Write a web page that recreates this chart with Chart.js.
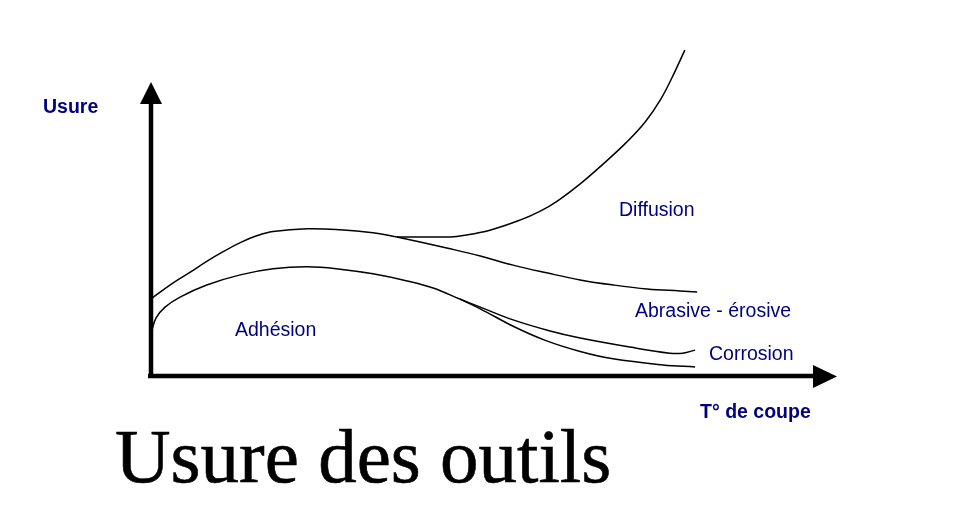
<!DOCTYPE html>
<html>
<head>
<meta charset="utf-8">
<title>Usure des outils</title>
<script src="https://cdn.jsdelivr.net/npm/chart.js@4.4.0/dist/chart.umd.min.js"></script>
<style>
  html, body { margin: 0; padding: 0; background: #fff; }
  #wrap { position: relative; width: 958px; height: 522px; }
  #titre {
    position: absolute; left: 115px; top: 418px;
    font: 77px/77px "Liberation Serif", "Times New Roman", serif;
    color: #000; white-space: nowrap;
    -webkit-text-stroke: 0.6px #000;
  }
</style>
</head>
<body>
<div id="wrap">
  <canvas id="myChart"></canvas>
  <div id="titre">Usure des outils</div>
</div>
<script>
const adhUpperX = [0, 3.1, 5.6, 8.0, 10.4, 12.9, 15.4, 17.7, 22.7, 27.5, 32.3, 35.8];
const adhUpperY = [23.2, 27.7, 30.9, 34.1, 37.0, 39.7, 41.8, 43.0, 43.8, 43.5, 42.6, 41.4];

const abrasiveX = [35.8, 39.2, 43.1, 48.0, 52.8, 57.7, 62.6, 67.4, 72.4, 77.2, 79.7];
const abrasiveY = [41.4, 39.9, 38.1, 35.7, 33.0, 30.7, 28.6, 27.1, 25.9, 25.3, 25.0];

const diffusionX = [35.8, 39.2, 43.6, 45.5, 49.4, 53.8, 56.7, 59.2, 62.6, 65.9, 69.4, 72.1, 74.3, 76.0, 77.9];
const diffusionY = [41.4, 41.4, 41.4, 41.8, 43.4, 46.4, 49.0, 52.0, 57.2, 63.0, 69.6, 75.6, 82.1, 88.7, 97.0];

const adhLowerX = [0, 0.6, 1.9, 4.1, 8.0, 12.9, 17.7, 22.7, 27.5, 32.3, 37.3, 41.1, 45.0];
const adhLowerY = [13.7, 17.3, 20.5, 23.5, 27.1, 30.1, 31.9, 32.5, 31.8, 30.4, 28.3, 26.2, 22.9];

const corrosionX = [45.0, 48.0, 52.8, 58.2, 62.6, 69.9, 75.7, 77.6, 79.4];
const corrosionY = [22.9, 20.5, 16.7, 13.4, 11.3, 8.6, 6.8, 6.8, 7.7];

const lowestX = [45.0, 48.0, 52.8, 57.5, 62.6, 67.4, 74.7, 79.4];
const lowestY = [22.9, 20.0, 14.8, 10.6, 7.3, 5.1, 3.3, 2.7];

function pts(xs, ys) {
    return xs.map((x, i) => ({x: x, y: ys[i]}));
}
function courbe(name, xs, ys) {
    return {
        label: name,
        data: pts(xs, ys),
        borderColor: '#000',
        borderWidth: 1.5,
        pointRadius: 0,
        tension: 0.4,
        fill: false,
        clip: false
    };
}

const navy = '#000080';

// axes fléchés + étiquettes
const decor = {
    id: 'decor',
    afterDatasetsDraw(chart) {
        const ctx = chart.ctx;
        const a = chart.chartArea;
        ctx.save();
        ctx.fillStyle = '#000';
        ctx.strokeStyle = '#000';
        ctx.lineWidth = 4.5;
        // axe vertical
        ctx.beginPath();
        ctx.moveTo(a.left - 1, a.bottom + 2);
        ctx.lineTo(a.left - 1, 100);
        ctx.stroke();
        ctx.beginPath();
        ctx.moveTo(a.left - 1, 82);
        ctx.lineTo(a.left - 12, 104);
        ctx.lineTo(a.left + 10, 104);
        ctx.closePath();
        ctx.fill();
        // axe horizontal
        ctx.beginPath();
        ctx.moveTo(a.left - 4, a.bottom);
        ctx.lineTo(a.right - 20, a.bottom);
        ctx.stroke();
        ctx.beginPath();
        ctx.moveTo(a.right + 1, a.bottom + 0.5);
        ctx.lineTo(a.right - 23, a.bottom - 11);
        ctx.lineTo(a.right - 23, a.bottom + 12);
        ctx.closePath();
        ctx.fill();

        ctx.fillStyle = navy;
        ctx.textAlign = 'left';
        ctx.textBaseline = 'alphabetic';
        ctx.font = 'bold 19.5px "Liberation Sans", Arial, sans-serif';
        ctx.fillText('Usure', 43, 113);
        ctx.fillText('T° de coupe', 700, 418);
        ctx.font = '19.5px "Liberation Sans", Arial, sans-serif';
        ctx.fillText('Diffusion', 619, 216);
        ctx.fillText('Abrasive - érosive', 635, 317);
        ctx.fillText('Corrosion', 709, 360);
        ctx.fillText('Adhésion', 235, 336);
        ctx.restore();
    }
};

let myChart = document.getElementById('myChart').getContext('2d');
let usureChart = new Chart(myChart, {
    type: 'line',
    data: {
        datasets: [
            courbe('Adhésion haute', adhUpperX, adhUpperY),
            courbe('Abrasive - érosive', abrasiveX, abrasiveY),
            courbe('Diffusion', diffusionX, diffusionY),
            courbe('Adhésion basse', adhLowerX, adhLowerY),
            courbe('Corrosion', corrosionX, corrosionY),
            courbe('Corrosion basse', lowestX, lowestY)
        ]
    },
    options: {
        responsive: true,
        maintainAspectRatio: false,
        animation: false,
        layout: {
            padding: {left: 152, right: 122, top: 40, bottom: 146}
        },
        scales: {
            x: {type: 'linear', min: 0, max: 100, display: false},
            y: {type: 'linear', min: 0, max: 100, display: false}
        },
        plugins: {
            legend: {display: false},
            tooltip: {enabled: false}
        }
    },
    plugins: [decor]
});
</script>
</body>
</html>
